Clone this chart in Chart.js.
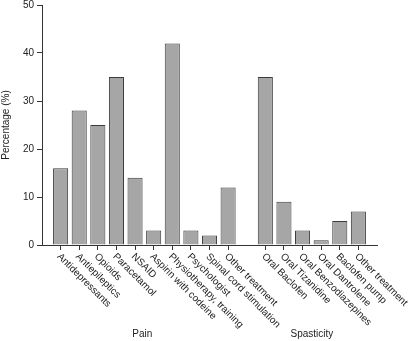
<!DOCTYPE html>
<html>
<head>
<meta charset="utf-8">
<script src="https://cdn.jsdelivr.net/npm/chart.js@4/dist/chart.umd.min.js"></script>
<style>
  body { margin: 0; background: #fff; }
  #wrap { width: 409px; height: 341px; }
</style>
</head>
<body>
<div id="wrap"><canvas id="myChart"></canvas></div>
<script>
var painLabels = ["Antidepressants", "Antiepileptics", "Opioids", "Paracetamol", "NSAID",
  "Aspirin with codeine", "Physiotherapy, training", "Psychologist", "Spinal cord stimulation", "Other treatment"];
var painValues = [16, 28, 25, 35, 14, 3, 42, 3, 2, 12];
var spasticityLabels = ["Oral Baclofen", "Oral Tizanidine", "Oral Benzodiazepines", "Oral Dantrolene",
  "Baclofen pump", "Other treatment"];
var spasticityValues = [35, 9, 3, 1, 5, 7];
var groupNames = ["Pain", "Spasticity"];
var yTicks = [0, 10, 20, 30, 40, 50];

// empty slots at both ends and between the two groups
var xLabels = [""].concat(painLabels, [""], spasticityLabels, [""]);
var yValues = [null].concat(painValues, [null], spasticityValues, [null]);

var font = "Liberation Sans, Arial, sans-serif";

var labelPlugin = {
  id: "rotatedLabels",
  afterDraw: function (chart) {
    var ctx = chart.ctx;
    var xs = chart.scales.x;
    ctx.save();
    ctx.fillStyle = "#222";
    ctx.font = "10px " + font;
    ctx.textAlign = "left";
    ctx.textBaseline = "middle";
    xLabels.forEach(function (lab, i) {
      if (!lab) return;
      var x = xs.getPixelForValue(i);
      ctx.save();
      ctx.translate(x - 2, 255);
      ctx.rotate(Math.PI / 4);
      ctx.fillText(lab, 0, 0);
      ctx.restore();
    });
    // group names under each block
    ctx.textAlign = "center";
    var painMid = (xs.getPixelForValue(1) + xs.getPixelForValue(painLabels.length)) / 2;
    var s0 = painLabels.length + 2;
    var spMid = (xs.getPixelForValue(s0) + xs.getPixelForValue(s0 + spasticityLabels.length - 1)) / 2;
    ctx.fillText(groupNames[0], painMid - 2, 334);
    ctx.fillText(groupNames[1], spMid, 334);
    ctx.restore();
  }
};

new Chart("myChart", {
  type: "bar",
  data: {
    labels: xLabels,
    datasets: [{
      data: yValues,
      backgroundColor: "#a6a6a6",
      borderColor: "#3a3a3a",
      borderWidth: 1,
      barPercentage: 0.81,
      categoryPercentage: 1
    }]
  },
  plugins: [labelPlugin],
  options: {
    responsive: true,
    maintainAspectRatio: false,
    animation: false,
    layout: { padding: { top: 0, right: 32, left: 0, bottom: 0 } },
    plugins: { legend: { display: false }, tooltip: { enabled: false } },
    scales: {
      x: {
        offset: false,
        grid: {
          offset: false,
          drawOnChartArea: false,
          drawTicks: true,
          tickLength: 5,
          tickColor: function (c) { return xLabels[c.index] ? "#333" : "rgba(0,0,0,0)"; }
        },
        border: { color: "#333", width: 1 },
        ticks: { display: false, autoSkip: false },
        afterFit: function (s) { s.height = 96; }
      },
      y: {
        min: 0,
        max: 50,
        afterBuildTicks: function (s) { s.ticks = yTicks.map(function (v) { return { value: v }; }); },
        grid: { drawOnChartArea: false, drawTicks: true, tickLength: 5, tickColor: "#333" },
        border: { color: "#333", width: 1 },
        ticks: { color: "#222", font: { family: font, size: 10 }, padding: 3 },
        title: {
          display: true,
          text: "Percentage (%)",
          color: "#222",
          font: { family: font, size: 10 },
          padding: { top: 0, bottom: 0 }
        },
        afterFit: function (s) { s.width = 42; s.paddingTop = 5; }
      }
    }
  }
});
</script>
</body>
</html>
